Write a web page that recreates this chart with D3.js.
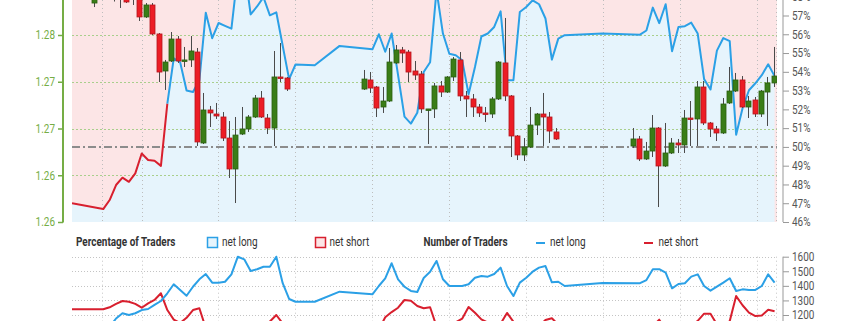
<!DOCTYPE html>
<html>
<head>
<meta charset="utf-8">
<script src="https://cdnjs.cloudflare.com/ajax/libs/d3/7.8.5/d3.min.js"></script>
<style>
body { margin: 0; background: #fff; }
svg { display: block; font-family: Roboto, "Noto Sans", sans-serif; }
</style>
</head>
<body>
<script>
// H4 candles, three trading weeks (hours from chart start)
var weekStarts = [14, 182, 350];
var weekCandles = [31, 31, 23];

var opens = [
  1.28342, 1.28428, 1.28588, 1.28503, 1.28439, 1.28417, 1.28396, 1.28396, 1.28193, 1.28321, 1.28011,
  1.27615, 1.27722, 1.27957, 1.27722, 1.27733, 1.27818, 1.26845, 1.27198, 1.27155, 1.27123, 1.26898,
  1.26567, 1.26941, 1.26995, 1.27123, 1.27326, 1.27112, 1.27005, 1.27551, 1.27540,
  1.27422, 1.27519, 1.27444, 1.27230, 1.27294, 1.27701, 1.27840, 1.27818, 1.27615, 1.27583, 1.27198,
  1.27209, 1.27455, 1.27390, 1.27551, 1.27733, 1.27348, 1.27316, 1.27230, 1.27166, 1.27155, 1.27316,
  1.27701, 1.27348, 1.26920, 1.26717, 1.26802, 1.27037, 1.27155, 1.27123, 1.26963,
  1.26813, 1.26888, 1.26674, 1.26759, 1.27005, 1.26599, 1.26738, 1.26845, 1.26824, 1.27112, 1.27102,
  1.27444, 1.27059, 1.26995, 1.26952, 1.27273, 1.27401, 1.27519, 1.27230, 1.27305, 1.27155, 1.27390, 1.27487
];
var highs = [
  1.28460, 1.28610, 1.28642, 1.28567, 1.28481, 1.28460, 1.28503, 1.28428, 1.28342, 1.28342, 1.28021,
  1.27733, 1.28032, 1.27989, 1.27872, 1.27989, 1.27861, 1.27380, 1.27241, 1.27273, 1.27176, 1.27080,
  1.27123, 1.27230, 1.27144, 1.27358, 1.27401, 1.27155, 1.27829, 1.27914, 1.27551,
  1.27626, 1.27604, 1.27455, 1.27444, 1.27861, 1.27893, 1.27872, 1.27840, 1.27722, 1.27615, 1.27209,
  1.27487, 1.27508, 1.27561, 1.27765, 1.27818, 1.27401, 1.27369, 1.27262, 1.27230, 1.27337, 1.27722,
  1.28182, 1.27358, 1.26930, 1.26898, 1.27230, 1.27166, 1.27380, 1.27176, 1.27005,
  1.27005, 1.26920, 1.26856, 1.27144, 1.27016, 1.27059, 1.26898, 1.26888, 1.27198, 1.27294, 1.27508,
  1.27508, 1.27070, 1.27027, 1.27326, 1.27658, 1.27594, 1.27561, 1.27348, 1.27337, 1.27412, 1.27551, 1.27872
];
var lows = [
  1.28299, 1.28396, 1.28406, 1.28358, 1.28289, 1.28342, 1.28321, 1.28150, 1.28182, 1.28000, 1.27497,
  1.27412, 1.27711, 1.27701, 1.27658, 1.27658, 1.26813, 1.26834, 1.27016, 1.27102, 1.26866, 1.26471,
  1.26203, 1.26930, 1.26963, 1.27112, 1.27112, 1.26941, 1.26813, 1.27497, 1.27401,
  1.27412, 1.27380, 1.27123, 1.27166, 1.27283, 1.27690, 1.27701, 1.27497, 1.27519, 1.27166, 1.26834,
  1.27112, 1.27337, 1.27380, 1.27508, 1.27294, 1.27123, 1.27123, 1.27123, 1.27070, 1.27112, 1.27305,
  1.27294, 1.26695, 1.26663, 1.26652, 1.26791, 1.26930, 1.26813, 1.26845, 1.26877,
  1.26791, 1.26652, 1.26663, 1.26695, 1.26160, 1.26588, 1.26727, 1.26738, 1.26738, 1.26813, 1.26813,
  1.27037, 1.26909, 1.26866, 1.26941, 1.27262, 1.27390, 1.27219, 1.27112, 1.27123, 1.27123, 1.27027, 1.27444
];
var closes = [
  1.28417, 1.28535, 1.28460, 1.28406, 1.28385, 1.28353, 1.28460, 1.28193, 1.28321, 1.28011, 1.27604,
  1.27711, 1.27957, 1.27722, 1.27733, 1.27829, 1.26856, 1.27198, 1.27166, 1.27134, 1.26898, 1.26567,
  1.26930, 1.26995, 1.27123, 1.27326, 1.27123, 1.27005, 1.27551, 1.27540, 1.27422,
  1.27529, 1.27433, 1.27219, 1.27294, 1.27711, 1.27840, 1.27807, 1.27604, 1.27572, 1.27209, 1.27209,
  1.27455, 1.27390, 1.27551, 1.27743, 1.27348, 1.27316, 1.27230, 1.27166, 1.27155, 1.27316, 1.27711,
  1.27348, 1.26920, 1.26717, 1.26802, 1.27037, 1.27155, 1.27123, 1.26973, 1.26888,
  1.26888, 1.26674, 1.26759, 1.27005, 1.26599, 1.26738, 1.26845, 1.26824, 1.27112, 1.27102, 1.27444,
  1.27059, 1.26995, 1.26952, 1.27262, 1.27401, 1.27519, 1.27230, 1.27294, 1.27155, 1.27401, 1.27487, 1.27561
];

// sentiment snapshots: [first hour, count] runs, 4h apart
var sentRuns = [[0, 1], [19.5, 31], [151.5, 1], [167, 1], [187.5, 31], [331, 1], [354.5, 22]];

var netLongPct = [47.0,
  46.69, 47.17, 47.97, 48.36, 48.14, 48.59, 49.65, 49.30, 49.26, 48.99, 52.31, 54.72, 54.51, 53.0, 52.93, 53.55,
  57.15, 55.79, 56.6, 56.45, 56.3, 59.3, 59.6, 57.06, 57.48, 57.97, 57.01, 57.17, 55.39, 53.61, 54.39,
  54.35, 55.38,
  55.2, 56.0, 55.07, 56.04, 53.82, 51.61, 51.24, 51.82, 53.99, 54.51, 58.34, 56.04, 54.96, 54.88, 54.62, 52.81,
  54.26, 55.88, 56.04, 56.39, 57.22, 53.55, 53.55, 57.19, 57.45, 57.81, 57.6, 56.84, 54.65, 55.77, 55.95,
  56.04,
  55.98, 56.2, 57.42, 56.59, 57.6, 55.1, 56.39, 56.43, 56.62, 56.04, 53.61, 53.06, 55.13, 55.8, 55.63, 50.65,
  52.06, 53.02, 53.39, 53.82, 54.4, 53.77
];
var longTraders = [1099,
  1085, 1119, 1176, 1212, 1200, 1212, 1234, 1241, 1269, 1296, 1349, 1411, 1372, 1332, 1394, 1445,
  1481, 1422, 1422, 1428, 1479, 1600, 1582, 1502, 1514, 1531, 1531, 1600, 1418, 1310, 1291,
  1291, 1360,
  1342, 1399, 1452, 1555, 1445, 1394, 1365, 1358, 1454, 1497, 1571, 1445, 1399, 1399, 1399, 1411,
  1456, 1468, 1463, 1481, 1525, 1399, 1330, 1422, 1456, 1497, 1525, 1536, 1424, 1428, 1399,
  1420,
  1418, 1440, 1514, 1514, 1490, 1383, 1413, 1418, 1463, 1479, 1399, 1367, 1394, 1422, 1452, 1365,
  1376, 1372, 1372, 1399, 1479, 1422
];
var shortTraders = [1239,
  1239, 1253, 1276, 1296, 1291, 1276, 1250, 1280, 1303, 1349, 1234, 1168, 1145, 1181, 1234, 1246,
  1110, 1127, 1090, 1102, 1148, 1098, 1072, 1130, 1120, 1110, 1155, 1200, 1142, 1134, 1083,
  1084, 1096,
  1089, 1099, 1185, 1220, 1250, 1303, 1298, 1262, 1246, 1253, 1122, 1134, 1147, 1150, 1175, 1255,
  1215, 1170, 1148, 1145, 1140, 1214, 1154, 1064, 1078, 1093, 1123, 1166, 1178, 1133, 1101,
  1114,
  1115, 1122, 1123, 1168, 1097, 1127, 1093, 1095, 1121, 1160, 1209, 1209, 1135, 1126, 1158, 1330,
  1267, 1216, 1193, 1196, 1236, 1226
];

var priceTicks = [1.26, 1.265, 1.27, 1.275, 1.28];
var pctTicks = [46, 47, 48, 49, 50, 51, 52, 53, 54, 55, 56, 57, 58];
var countTicks = [1200, 1300, 1400, 1500, 1600];
var gridHours = [0, 19.5, 44, 92, 140, 188, 236, 284, 332, 380, 428, 440];

var PINK = "#fce5e6", SKY = "#e6f4fc", BLUE = "#2ba0e6", RED = "#d81f2e";
var SX = 0.83; // condensed look for all texts

var svg = d3.select("body").append("svg")
  .attr("width", 845)
  .attr("height", 321);

var x = d3.scaleLinear().domain([0, 440]).range([72, 777]);
var yPrice = d3.scaleLinear().domain([1.26, 1.28]).range([222, 35]);
var yPct = d3.scaleLinear().domain([46, 57]).range([222, 15.5]);
var yCount = d3.scaleLinear().domain([1200, 1600]).range([315, 256.7]);

// build records
var candles = [];
var ci = 0;
weekStarts.forEach(function(start, w) {
  for (var i = 0; i < weekCandles[w]; i++, ci++) {
    candles.push({t: start + 4 * i, o: opens[ci], h: highs[ci], l: lows[ci], c: closes[ci]});
  }
});

var sent = [];
var si = 0;
sentRuns.forEach(function(run) {
  for (var i = 0; i < run[1]; i++, si++) {
    sent.push({t: run[0] + 4 * i, p: netLongPct[si], nl: longTraders[si], ns: shortTraders[si]});
  }
});

var defs = svg.append("defs");
defs.append("clipPath").attr("id", "clipTop").append("rect")
  .attr("x", 72).attr("y", -80).attr("width", 705).attr("height", 302);
defs.append("clipPath").attr("id", "clipBot").append("rect")
  .attr("x", 72).attr("y", 250).attr("width", 705).attr("height", 100);

// ---------- main panel ----------
var main = svg.append("g").attr("clip-path", "url(#clipTop)");

main.append("rect")
  .attr("x", 72).attr("y", -80).attr("width", 705).attr("height", 302)
  .attr("fill", PINK);

main.append("path")
  .datum(sent)
  .attr("fill", SKY)
  .attr("d", d3.area()
    .x(function(d) { return x(d.t); })
    .y0(yPct(46))
    .y1(function(d) { return yPct(d.p); }));

main.selectAll(".hgrid").data(priceTicks).enter().append("line")
  .attr("x1", 72).attr("x2", 777)
  .attr("y1", function(d) { return Math.round(yPrice(d)) + 0.5; })
  .attr("y2", function(d) { return Math.round(yPrice(d)) + 0.5; })
  .attr("stroke", "#a9cf8c").attr("stroke-width", 1.2)
  .attr("stroke-dasharray", "2,2");

main.selectAll(".vgrid").data(gridHours).enter().append("line")
  .attr("x1", function(d) { return Math.round(x(d)) - 0.5; })
  .attr("x2", function(d) { return Math.round(x(d)) - 0.5; })
  .attr("y1", -80).attr("y2", 222)
  .attr("stroke", "#bdbdbd").attr("stroke-dasharray", "1,3");

main.append("line")
  .attr("x1", 72).attr("x2", 777)
  .attr("y1", yPct(50)).attr("y2", yPct(50))
  .attr("stroke", "#8c8c8c").attr("stroke-width", 2)
  .attr("stroke-dasharray", "8,3,2,3");

// sentiment line, red while net long is under 50%
var runs = [];
for (var i = 0; i < sent.length - 1; i++) {
  var col = sent[i].p < 50 ? RED : BLUE;
  if (!runs.length || runs[runs.length - 1].col !== col) {
    runs.push({col: col, pts: [sent[i]]});
  }
  runs[runs.length - 1].pts.push(sent[i + 1]);
}
var pctLine = d3.line()
  .x(function(d) { return x(d.t); })
  .y(function(d) { return yPct(d.p); });
main.selectAll(".sline").data(runs).enter().append("path")
  .attr("fill", "none")
  .attr("stroke", function(d) { return d.col; })
  .attr("stroke-width", 2)
  .attr("stroke-linejoin", "round")
  .attr("d", function(d) { return pctLine(d.pts); });

// candles
main.selectAll(".wick").data(candles).enter().append("line")
  .attr("x1", function(d) { return Math.round(x(d.t)) + 0.5; })
  .attr("x2", function(d) { return Math.round(x(d.t)) + 0.5; })
  .attr("y1", function(d) { return yPrice(d.h); })
  .attr("y2", function(d) { return yPrice(d.l); })
  .attr("stroke", "#4a4a4a").attr("stroke-width", 1);

main.selectAll(".body").data(candles).enter().append("rect")
  .attr("x", function(d) { return Math.round(x(d.t)) - 2; })
  .attr("width", 5)
  .attr("y", function(d) { return yPrice(Math.max(d.o, d.c)); })
  .attr("height", function(d) { return Math.max(1.5, Math.abs(yPrice(d.o) - yPrice(d.c))); })
  .attr("fill", function(d) { return d.c >= d.o ? "#3a7d17" : "#ec1d25"; })
  .attr("stroke", function(d) { return d.c >= d.o ? "#2b5f10" : "#b5151c"; })
  .attr("stroke-width", 0.8);

// axes
function condense(g) {
  g.selectAll("text")
    .attr("x", function() { return (+d3.select(this).attr("x")) / SX; })
    .attr("transform", "scale(" + SX + ",1)");
}

var leftAxis = svg.append("g")
  .attr("transform", "translate(63,0)")
  .call(d3.axisLeft(yPrice).tickValues(priceTicks).tickFormat(d3.format(".2f"))
    .tickSize(5).tickPadding(3).tickSizeOuter(0));
leftAxis.select(".domain").remove();
leftAxis.selectAll("line").attr("stroke", "#75ad45").attr("stroke-width", 1.5);
leftAxis.selectAll("text").attr("fill", "#75ad45").attr("font-size", 12).attr("font-family", "Roboto");
condense(leftAxis);
leftAxis.append("line")
  .attr("y1", -80).attr("y2", 222.5)
  .attr("stroke", "#75ad45").attr("stroke-width", 2);

var rightAxis = svg.append("g")
  .attr("transform", "translate(783,0)")
  .call(d3.axisRight(yPct).tickValues(pctTicks).tickFormat(function(d) { return d + "%"; })
    .tickSize(6).tickPadding(3).tickSizeOuter(0));
rightAxis.select(".domain").remove();
rightAxis.selectAll("line").attr("stroke", "#999");
rightAxis.selectAll("text").attr("fill", "#555").attr("font-size", 12).attr("font-family", "Roboto");
condense(rightAxis);
rightAxis.append("line")
  .attr("y1", -80).attr("y2", yPct(46))
  .attr("stroke", "#999");

// ---------- legend ----------
var legend = svg.append("g")
  .attr("font-size", 12)
  .attr("fill", "#333");

function ltext(px, txt, bold) {
  legend.append("text")
    .attr("x", px / SX).attr("y", 246.5)
    .attr("transform", "scale(" + SX + ",1)")
    .attr("font-weight", bold ? "bold" : "normal")
    .text(txt);
}

ltext(76, "Percentage of Traders", true);
legend.append("rect").attr("x", 207.5).attr("y", 237.5).attr("width", 10).attr("height", 10)
  .attr("fill", SKY).attr("stroke", BLUE).attr("stroke-width", 1.5);
ltext(222, "net long");
legend.append("rect").attr("x", 315.5).attr("y", 237.5).attr("width", 10).attr("height", 10)
  .attr("fill", PINK).attr("stroke", RED).attr("stroke-width", 1.5);
ltext(329.5, "net short");

ltext(423.5, "Number of Traders", true);
legend.append("line").attr("x1", 536).attr("x2", 545).attr("y1", 243).attr("y2", 243)
  .attr("stroke", BLUE).attr("stroke-width", 2);
ltext(550, "net long");
legend.append("line").attr("x1", 644).attr("x2", 653).attr("y1", 243).attr("y2", 243)
  .attr("stroke", RED).attr("stroke-width", 2);
ltext(658.5, "net short");

// ---------- lower panel: number of traders ----------
var low = svg.append("g").attr("clip-path", "url(#clipBot)");

low.selectAll(".hgrid").data(countTicks).enter().append("line")
  .attr("x1", 72).attr("x2", 777)
  .attr("y1", function(d) { return Math.round(yCount(d)) + 0.5; })
  .attr("y2", function(d) { return Math.round(yCount(d)) + 0.5; })
  .attr("stroke", "#c4c4c4").attr("stroke-dasharray", "1,2");

low.selectAll(".vgrid").data(gridHours).enter().append("line")
  .attr("x1", function(d) { return Math.round(x(d)) - 0.5; })
  .attr("x2", function(d) { return Math.round(x(d)) - 0.5; })
  .attr("y1", yCount(1600)).attr("y2", 340)
  .attr("stroke", "#c4c4c4").attr("stroke-dasharray", "1,3");

var countLine = function(key) {
  return d3.line()
    .x(function(d) { return x(d.t); })
    .y(function(d) { return yCount(d[key]); });
};
low.append("path").datum(sent)
  .attr("fill", "none").attr("stroke", RED).attr("stroke-width", 2)
  .attr("stroke-linejoin", "round")
  .attr("d", countLine("ns"));
low.append("path").datum(sent)
  .attr("fill", "none").attr("stroke", BLUE).attr("stroke-width", 2)
  .attr("stroke-linejoin", "round")
  .attr("d", countLine("nl"));

var countAxis = svg.append("g")
  .attr("transform", "translate(783,0)")
  .call(d3.axisRight(yCount).tickValues(countTicks).tickFormat(d3.format("d"))
    .tickSize(6).tickPadding(3).tickSizeOuter(0));
countAxis.select(".domain").remove();
countAxis.selectAll("line").attr("stroke", "#999");
countAxis.selectAll("text").attr("fill", "#555").attr("font-size", 12).attr("font-family", "Roboto");
condense(countAxis);
countAxis.append("line")
  .attr("y1", yCount(1600)).attr("y2", 340)
  .attr("stroke", "#999");
</script>
</body>
</html>
